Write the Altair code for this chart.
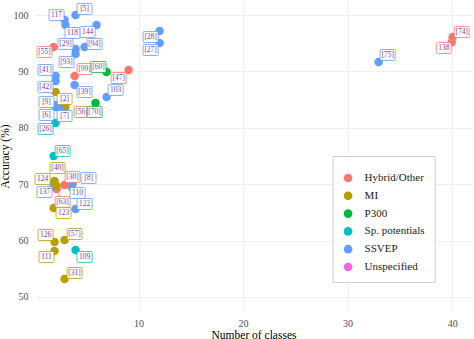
import altair as alt
import pandas as pd

# ---- data ----
labels = ["[5]", "117", "118", "144", "[55]", "[29]", "[93]", "[94]", "[28]", "[27]",
          "[75]", "[74]", "138", "[41]", "[42]", "[99]", "[60]", "[47]", "[39]", "103",
          "[2]", "[56]", "[70]", "[9]", "[6]", "[7]", "[26]", "[65]", "137", "[63]",
          "[8]", "110", "[30]", "[40]", "124", "123", "122", "126", "[57]", "111",
          "109", "[31]"]
groups = ["V", "V", "V", "V", "H", "V", "V", "V", "V", "V",
          "V", "H", "H", "V", "V", "H", "P", "H", "V", "V",
          "M", "M", "P", "V", "V", "V", "S", "S", "V", "H",
          "V", "V", "H", "M", "M", "M", "V", "M", "M", "M",
          "S", "M"]
n_classes = [3.98, 2.93, 3.02, 5.99, 1.88, 3.98, 3.98, 4.84, 12.02, 12.02,
             32.97, 40.05, 39.96, 2.07, 2.07, 3.89, 6.95, 9.05, 3.89, 6.95,
             2.07, 3.02, 5.89, 2.07, 2.07, 2.45, 2.07, 1.88, 1.88, 2.16,
             3.69, 3.6, 2.93, 1.97, 2.16, 1.88, 3.98, 1.97, 2.93, 1.97,
             3.98, 2.93]
accuracy = [100.0, 99.13, 98.24, 98.24, 94.34, 94.0, 93.1, 94.34, 97.18, 95.05,
            91.68, 96.11, 95.2, 89.19, 88.31, 89.19, 89.9, 90.26, 87.6, 85.47,
            86.35, 83.69, 84.4, 84.05, 83.69, 83.5, 80.85, 75.0, 69.68, 69.14,
            70.03, 69.5, 69.85, 70.56, 69.68, 65.77, 65.6, 59.74, 60.1, 58.15,
            58.32, 53.17]
# repelled label anchors, in data units
label_x = [4.84, 2.16, 3.69, 5.13, 1.01, 3.02, 3.12, 5.8, 11.16, 11.16,
           33.83, 40.92, 39.2, 1.11, 1.11, 4.84, 6.18, 8.1, 4.84, 7.81,
           2.93, 4.55, 5.8, 1.2, 1.2, 2.93, 1.11, 2.74, 1.01, 2.74,
           5.22, 4.17, 3.69, 2.26, 0.82, 2.83, 4.84, 1.11, 3.89, 1.2,
           4.84, 3.89]
label_y = [101.08, 100.0, 96.82, 97.0, 93.45, 94.87, 91.68, 94.87, 96.11, 93.8,
           92.92, 97.0, 94.16, 90.26, 87.24, 90.43, 90.79, 88.84, 86.35, 86.71,
           85.11, 82.8, 82.8, 84.58, 82.27, 82.1, 79.79, 75.89, 68.6, 66.84,
           71.1, 68.43, 71.27, 72.87, 70.92, 64.88, 66.48, 60.98, 61.16, 57.08,
           57.08, 54.24]
with_segment = ["137", "[63]", "124"]

group_names = {"H": "Hybrid/Other", "M": "MI", "P": "P300",
               "S": "Sp. potentials", "V": "SSVEP"}
domain = ["Hybrid/Other", "MI", "P300", "Sp. potentials", "SSVEP", "Unspecified"]
palette = ["#F8766D", "#B79F00", "#00BA38", "#00BFC4", "#619CFF", "#F564E3"]

df = pd.DataFrame({
    "label": labels,
    "group": [group_names[g] for g in groups],
    "n": n_classes,
    "acc": accuracy,
    "lx": label_x,
    "ly": label_y,
    "seg": [lab in with_segment for lab in labels],
})

FONT = "Liberation Serif"
xs = alt.Scale(domain=[0.1, 41.9], nice=False, zero=False)
ys = alt.Scale(domain=[47.5, 102.5], nice=False, zero=False)

base = alt.Chart(df)

segments = base.transform_filter("datum.seg").mark_rule(strokeWidth=0.8).encode(
    x=alt.X("lx:Q", scale=xs),
    y=alt.Y("ly:Q", scale=ys),
    x2="n:Q",
    y2="acc:Q",
    stroke=alt.Stroke("group:N", scale=alt.Scale(domain=domain, range=palette), legend=None),
)

points = base.mark_circle(size=72, opacity=1).encode(
    x=alt.X("n:Q", scale=xs,
            axis=alt.Axis(values=[10, 20, 30, 40], title="Number of classes")),
    y=alt.Y("acc:Q", scale=ys,
            axis=alt.Axis(values=[50, 60, 70, 80, 90, 100], title="Accuracy (%)")),
    color=alt.Color("group:N", title=" ",
                    scale=alt.Scale(domain=domain, range=palette),
                    legend=alt.Legend(orient="none", legendX=297.6, legendY=155,
                                      fillColor="white", strokeColor="#cfcfcf",
                                      padding=10, symbolType="circle", symbolSize=75,
                                      symbolOpacity=1, symbolStrokeWidth=0,
                                      labelFont=FONT, labelFontSize=11,
                                      labelColor="#1a1a1a", labelOffset=11,
                                      rowPadding=5.8, titleFontSize=5, titlePadding=1.5)),
)

box_path = ("M-0.85,-0.73L0.85,-0.73Q1,-0.73 1,-0.58L1,0.58Q1,0.73 0.85,0.73"
            "L-0.85,0.73Q-1,0.73 -1,0.58L-1,-0.58Q-1,-0.73 -0.85,-0.73Z")
boxes = base.mark_point(shape=box_path, size=225, filled=False, fill="white",
                        fillOpacity=0.9, strokeWidth=0.8, opacity=1).encode(
    x=alt.X("lx:Q", scale=xs),
    y=alt.Y("ly:Q", scale=ys),
    stroke=alt.Stroke("group:N", scale=alt.Scale(domain=domain, range=palette), legend=None),
)

texts = base.mark_text(font=FONT, fontSize=7.5, color="#7D3C98",
                       align="center", baseline="middle").encode(
    x=alt.X("lx:Q", scale=xs),
    y=alt.Y("ly:Q", scale=ys),
    text="label:N",
)

chart = alt.layer(segments, points, boxes, texts).resolve_scale(
    color="independent", stroke="shared"
).properties(
    width=437, height=310,
    autosize=alt.AutoSizeParams(type="none"),
    padding={"left": 35, "top": 1, "right": 2, "bottom": 28},
).configure_view(stroke=None).configure_axis(
    domain=False, ticks=False, grid=True, gridColor="#ebebeb", gridWidth=0.8,
    labelFont=FONT, labelFontSize=10, labelColor="#4d4d4d", labelPadding=7,
    titleFont=FONT, titleFontSize=11.5, titleFontWeight="normal", titleColor="#000000",
).configure_axisX(titlePadding=1).configure_axisY(titlePadding=3)

chart.save("out.html", embed_options={"renderer": "svg", "actions": False})
